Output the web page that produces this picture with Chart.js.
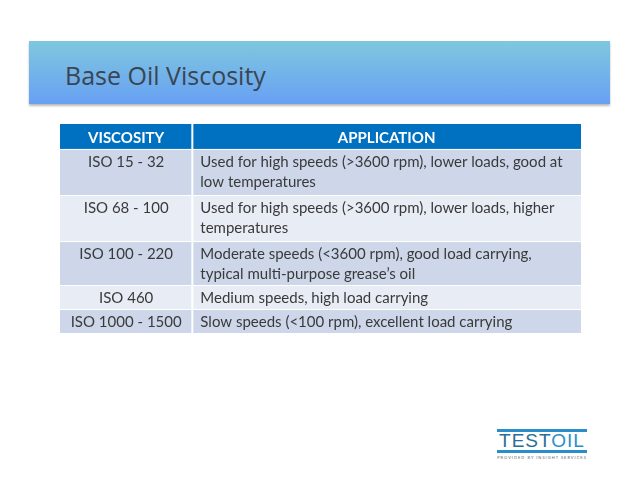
<!DOCTYPE html>
<html><head><meta charset="utf-8">
<script src="https://cdn.jsdelivr.net/npm/chart.js"></script>
<style>
html,body{margin:0;padding:0;background:#fff;width:638px;height:493px;overflow:hidden;font-family:Lato,sans-serif}
#banner{position:absolute;left:29px;top:41px;width:581px;height:63px;background:linear-gradient(#7ec8de,#68a0f4);box-shadow:0 2px 2px #bbb}
#title{position:absolute;left:65px;top:58px;font-size:25px;color:#3a4552;font-family:"Open Sans",sans-serif}
#wrap{position:absolute;left:60px;top:124px;width:521px;height:210px}
#logo{position:absolute;left:497px;top:429px;width:90px}
#logo .bar{height:3px;background:#2a8fc8}
#logo .t{font-family:"Liberation Sans",sans-serif;font-size:19px;letter-spacing:1px;color:#2a6e95;line-height:18px;text-align:center}
#logo .s{font-size:4px;color:#666;letter-spacing:1px;text-align:center;margin-top:2px}
</style></head><body>
<div id="banner"></div><div id="title">Base Oil Viscosity</div>
<div id="wrap"><canvas id="c"></canvas></div>
<div id="logo"><div class="bar"></div><div class="t">TEST<span style="color:#2a8fc8">OIL</span></div><div class="bar"></div><div class="s">PROVIDED BY INSIGHT SERVICES</div></div>
<script>
const headers=["VISCOSITY","APPLICATION"];
const viscosity=["ISO 15 - 32","ISO 68 - 100","ISO 100 - 220","ISO 460","ISO 1000 - 1500"];
const application=[
 ["Used for high speeds (>3600 rpm), lower loads, good at","low temperatures"],
 ["Used for high speeds (>3600 rpm), lower loads, higher","temperatures"],
 ["Moderate speeds (<3600 rpm), good load carrying,","typical multi-purpose grease\u2019s oil"],
 ["Medium speeds, high load carrying"],
 ["Slow speeds (<100 rpm), excellent load carrying"]];
const rowUnits=[1.08,1.92,1.92,1.83,1,1];
const colSplit=25.4;
const rowColors=["#cdd7e9","#e8edf5"];
const tablePlugin={id:'table',afterDraw(chart){
 const ctx=chart.ctx,x=chart.scales.x,y=chart.scales.y;
 const x0=x.getPixelForValue(0),x1=x.getPixelForValue(colSplit),x2=x.getPixelForValue(100);
 let u=0;
 ctx.save();
 for(let r=0;r<=viscosity.length;r++){
  const h=rowUnits[r];
  const ya=y.getPixelForValue(u),yb=y.getPixelForValue(u+h);
  if(r===0){
   ctx.fillStyle="#0070c0";ctx.fillRect(x0,ya,x2-x0,yb-ya);
   ctx.fillStyle="#fff";ctx.font="bold 15px Lato";ctx.textAlign="center";ctx.textBaseline="middle";
   ctx.fillText(headers[0],(x0+x1)/2,(ya+yb)/2+1);ctx.fillText(headers[1],(x1+x2)/2,(ya+yb)/2+1);
  }else{
   ctx.fillStyle=rowColors[(r-1)%2];ctx.fillRect(x0,ya,x2-x0,yb-ya);
   ctx.fillStyle="#3a3a3a";ctx.font="15px Lato";ctx.textBaseline="middle";
   const ty=ya+12;
   ctx.textAlign="center";ctx.fillText(viscosity[r-1],(x0+x1)/2,ty);
   ctx.textAlign="left";
   application[r-1].forEach((l,i)=>ctx.fillText(l,x1+8,ty+i*20));
  }
  ctx.fillStyle="#fff";ctx.fillRect(x1-1,ya,2,yb-ya);ctx.fillRect(x0,yb-1,x2-x0,2);
  u+=h;
 }
 ctx.restore();
}};
new Chart(document.getElementById('c'),{type:'scatter',data:{datasets:[{data:[]}]},
 options:{responsive:true,maintainAspectRatio:false,animation:false,layout:{padding:0},
 plugins:{legend:{display:false},tooltip:{enabled:false}},
 scales:{x:{type:'linear',min:0,max:100,display:false},y:{type:'linear',min:0,max:8.75,reverse:true,display:false}}},
 plugins:[tablePlugin]});
</script></body></html>
